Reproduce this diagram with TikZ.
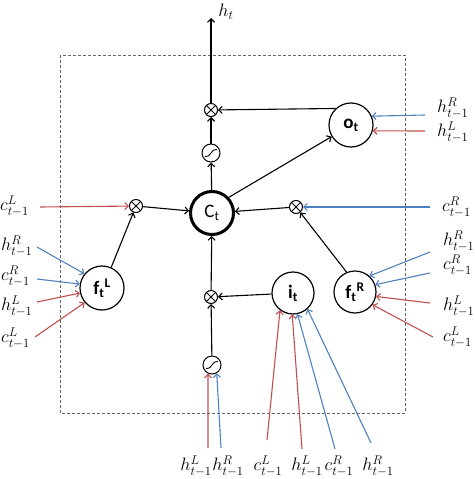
\RequirePackage{fix-cm}
\documentclass[tikz,border=0pt]{standalone}
\usepackage{fontspec}
\newfontfamily\gatefont{Carlito}
\usetikzlibrary{arrows.meta}
\definecolor{myred}{RGB}{192,80,77}
\definecolor{myblue}{RGB}{79,129,189}
\begin{document}
\begin{tikzpicture}[x=1pt,y=-1pt,
  font=\fontsize{18}{20}\selectfont,
  gate/.style={circle,draw,line width=1.2pt,minimum size=#1,inner sep=0pt,
    font=\gatefont\bfseries\fontsize{19}{20}\selectfont},
  gate/.default=43pt,
  cell/.style={circle,draw,line width=3pt,minimum size=43pt,inner sep=0pt,
    font=\gatefont\fontsize{19}{20}\selectfont},
  mult/.style={circle,draw,line width=1pt,minimum size=13pt,inner sep=0pt,
    path picture={\draw[line width=1pt]
      (path picture bounding box.north west)--(path picture bounding box.south east)
      (path picture bounding box.north east)--(path picture bounding box.south west);}},
  sig/.style={circle,draw,line width=1pt,minimum size=18pt,inner sep=0pt,
    path picture={\draw[line width=0.9pt]
      ([shift={(-6pt,-3.5pt)}]path picture bounding box.center)
      .. controls ([shift={(1.5pt,-3.5pt)}]path picture bounding box.center)
      and ([shift={(-1.5pt,3.5pt)}]path picture bounding box.center)
      .. ([shift={(6pt,3.5pt)}]path picture bounding box.center);}},
  arr/.style={-{Straight Barb[length=3.5pt,width=7pt]},line width=1.1pt},
  rarr/.style={arr,myred,line width=1.1pt},
  barr/.style={arr,myblue,line width=1.1pt},
  lab/.style={inner sep=0pt}
]
\useasboundingbox (0,0) rectangle (474,479);
\draw[gray!80!black,dashed,line width=0.7pt,dash pattern=on 3pt off 2pt] (60,55) rectangle (405,413);

% main nodes
\node[cell] (Ct) at (212,213) {C\textsubscript{t}};
\node[gate=44pt] (ot) at (351,125) {o\textsubscript{t}};
\node[gate=44pt] (fL) at (102,288) {f\textsubscript{t}\textsuperscript{L}};
\node[gate=42pt] (it) at (293,293) {i\textsubscript{t}};
\node[gate=42pt] (fR) at (355,292) {f\textsubscript{t}\textsuperscript{R}};
\node[mult] (mT) at (211,110) {};
\node[mult] (mL) at (136,206) {};
\node[mult] (mR) at (296,207) {};
\node[mult] (mB) at (211,297) {};
\node[sig] (sT) at (211,153) {};
\node[sig] (sB) at (212,365) {};
\coordinate (top) at (211,18);
\node[lab] (ht) at (226,12) {$h_t$};

% internal connections
\draw[arr] (Ct) -- (sT);
\draw[arr] (sT) -- (mT);
\draw[arr] (mT) -- (top);
\draw[arr] (ot.133) -- (mT);
\draw[arr] (Ct.43) -- (ot.211);
\draw[arr] (mL) -- (Ct);
\draw[arr] (mR) -- (Ct);
\draw[arr] (fL.66) -- (mL);
\draw[arr] (fR.113) -- (mR);
\draw[arr] (mB) -- (Ct);
\draw[arr] (it) -- (mB);
\draw[arr] (sB) -- (mB);

% left top input
\node[lab,anchor=west] (lcL) at (0,206) {$c^L_{t-1}$};
\coordinate (s1) at (40,207);
\draw[rarr] (s1) -- (mL);

% right top input
\node[lab,anchor=west] (rcR) at (442,207) {$c^R_{t-1}$};
\coordinate (s2) at (430,207);
\draw[barr] (s2) -- (mR);

% o_t inputs
\node[lab,anchor=west] (ohR) at (437,108) {$h^R_{t-1}$};
\node[lab,anchor=west] (ohL) at (437,132) {$h^L_{t-1}$};
\coordinate (s3) at (425,115);
\coordinate (s4) at (425,131);
\draw[barr] (s3) -- (ot.23);
\draw[rarr] (s4) -- (ot.345);

% f^L inputs
\node[lab,anchor=west] (fLhR) at (1,246) {$h^R_{t-1}$};
\node[lab,anchor=west] (fLcR) at (1,276) {$c^R_{t-1}$};
\node[lab,anchor=west] (fLhL) at (1,306) {$h^L_{t-1}$};
\node[lab,anchor=west] (fLcL) at (1,338) {$c^L_{t-1}$};
\coordinate (s5) at (37,247);
\coordinate (s6) at (37,279);
\coordinate (s7) at (37,302);
\coordinate (s8) at (35,337);
\draw[barr] (s5) -- (fL.141);
\draw[barr] (s6) -- (fL.170);
\draw[rarr] (s7) -- (fL.193);
\draw[rarr] (s8) -- (fL.220);

% f^R inputs
\node[lab,anchor=west] (fRhR) at (443,241) {$h^R_{t-1}$};
\node[lab,anchor=west] (fRcR) at (443,265) {$c^R_{t-1}$};
\node[lab,anchor=west] (fRhL) at (443,306) {$h^L_{t-1}$};
\node[lab,anchor=west] (fRcL) at (443,337) {$c^L_{t-1}$};
\coordinate (s9) at (430,252);
\coordinate (s10) at (430,273);
\coordinate (s11) at (430,303);
\coordinate (s12) at (433,337);
\draw[barr] (s9) -- (fR.48);
\draw[barr] (s10) -- (fR.20);
\draw[rarr] (s11) -- (fR.348);
\draw[rarr] (s12) -- (fR.324);

% bottom inputs
\node[lab] (bhL) at (196,466) {$h^L_{t-1}$};
\node[lab] (bhR) at (228,466) {$h^R_{t-1}$};
\node[lab] (bcL) at (268,466) {$c^L_{t-1}$};
\node[lab] (bhL2) at (307,466) {$h^L_{t-1}$};
\node[lab] (bcR) at (339,466) {$c^R_{t-1}$};
\node[lab] (bhR2) at (378,466) {$h^R_{t-1}$};
\coordinate (s13) at (208,448);
\coordinate (s14) at (221,448);
\draw[rarr] (s13) -- (sB.245);
\draw[barr] (s14) -- (sB.300);
\coordinate (s15) at (267,440);
\coordinate (s16) at (302,449);
\coordinate (s17) at (335,449);
\coordinate (s18) at (371,443);
\draw[rarr] (s15) -- (it.233);
\draw[rarr] (s16) -- (it.268);
\draw[barr] (s17) -- (it.282);
\draw[barr] (s18) -- (it.312);
\end{tikzpicture}
\end{document}
